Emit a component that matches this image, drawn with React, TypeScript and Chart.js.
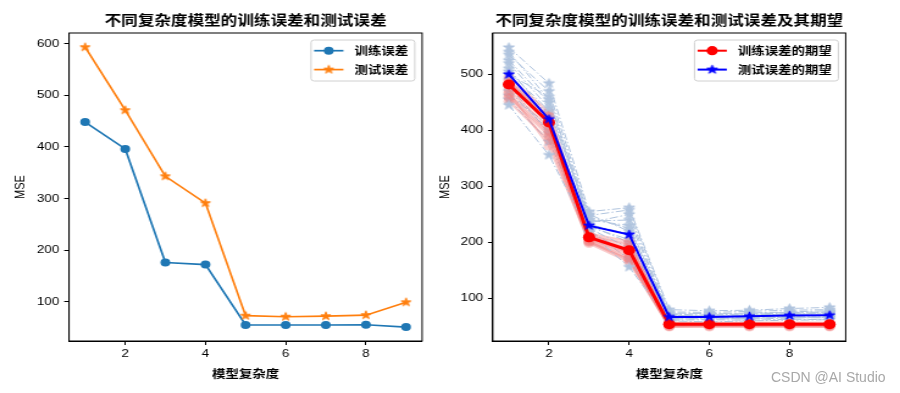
import React, { useEffect, useRef } from 'react';
import { Chart, registerables } from 'chart.js';

Chart.register(...registerables);

// horizontal stretch of the reference picture
const SX = 1.22;
const LATIN = '"Liberation Sans", Arial, sans-serif';
const CJK = '"Noto Sans CJK SC", "Noto Sans", sans-serif';

// ---------------- data ----------------
const complexity = [1, 2, 3, 4, 5, 6, 7, 8, 9];
const xTicks = [2, 4, 6, 8];
const leftYTicks = [100, 200, 300, 400, 500, 600];
const rightYTicks = [100, 200, 300, 400, 500];

const trainError = [448, 396, 176, 172, 55, 55, 55, 55.5, 51];
const testError = [593, 471, 343, 291, 73, 71, 72, 74, 99];

const trainExpected = [482, 414, 209, 186, 54, 54, 54, 54, 54];
const testExpected = [500, 420, 230, 214, 67, 67, 68, 69.5, 70];

const trainSample01 = [472, 405, 205, 180, 53, 53, 52, 53, 52];
const trainSample02 = [490, 425, 212, 195, 56, 55, 56, 55, 55];
const trainSample03 = [458, 390, 200, 170, 50, 51, 50, 51, 50];
const trainSample04 = [485, 420, 210, 190, 55, 54, 55, 56, 54];
const trainSample05 = [465, 398, 203, 176, 52, 52, 53, 52, 51];
const trainSample06 = [496, 432, 216, 202, 57, 57, 56, 57, 56];
const trainSample07 = [452, 382, 198, 165, 49, 49, 49, 49, 49];
const trainSample08 = [478, 412, 208, 185, 54, 53, 54, 54, 53];
const trainSample09 = [468, 372, 202, 172, 51, 52, 51, 52, 52];
const trainSample10 = [482, 416, 206, 182, 55, 55, 54, 55, 55];
const trainSample11 = [460, 395, 201, 168, 50, 50, 51, 50, 50];
const trainSample12 = [488, 423, 213, 198, 56, 56, 57, 56, 57];

const testSample01 = [548, 484, 255, 262, 80, 78, 79, 82, 84];
const testSample02 = [445, 356, 218, 156, 60, 58, 60, 61, 62];
const testSample03 = [520, 440, 240, 230, 72, 70, 73, 75, 76];
const testSample04 = [500, 460, 235, 250, 68, 69, 70, 72, 74];
const testSample05 = [470, 400, 225, 190, 63, 64, 63, 65, 66];
const testSample06 = [535, 470, 248, 258, 76, 75, 77, 79, 80];
const testSample07 = [455, 380, 222, 170, 61, 62, 61, 63, 62];
const testSample08 = [510, 425, 232, 215, 70, 68, 69, 71, 70];
const testSample09 = [490, 415, 228, 205, 66, 67, 66, 68, 69];
const testSample10 = [540, 455, 245, 225, 74, 73, 74, 76, 78];
const testSample11 = [480, 395, 220, 180, 64, 63, 65, 66, 67];
const testSample12 = [525, 450, 238, 240, 72, 73, 72, 74, 75];
const testSample13 = [462, 410, 230, 200, 65, 66, 64, 67, 65];
const testSample14 = [505, 435, 250, 220, 69, 70, 71, 72, 73];

const trainSamples = [
  trainSample01, trainSample02, trainSample03, trainSample04, trainSample05, trainSample06,
  trainSample07, trainSample08, trainSample09, trainSample10, trainSample11, trainSample12,
];
const testSamples = [
  testSample01, testSample02, testSample03, testSample04, testSample05, testSample06, testSample07,
  testSample08, testSample09, testSample10, testSample11, testSample12, testSample13, testSample14,
];

// ---------------- helpers ----------------
const toXY = (ys: number[]) => ys.map((y, i) => ({ x: complexity[i], y }));

function makeStar(R: number, fill: string): HTMLCanvasElement {
  const size = Math.ceil(R * 2 + 3);
  const c = document.createElement('canvas');
  c.width = size;
  c.height = size;
  const ctx = c.getContext('2d')!;
  const cx = size / 2;
  const cy = size / 2;
  ctx.beginPath();
  for (let i = 0; i < 10; i++) {
    const r = i % 2 === 0 ? R : R * 0.381966;
    const a = -Math.PI / 2 + (i * Math.PI) / 5;
    const x = cx + r * Math.cos(a);
    const y = cy + r * Math.sin(a);
    if (i === 0) ctx.moveTo(x, y);
    else ctx.lineTo(x, y);
  }
  ctx.closePath();
  ctx.fillStyle = fill;
  ctx.fill();
  ctx.strokeStyle = fill;
  ctx.lineWidth = 1;
  ctx.stroke();
  return c;
}

type LegendItem = {
  label: string;
  color: string;
  lineWidth: number;
  marker: 'circle' | 'star';
  radius?: number;
  star?: HTMLCanvasElement;
};

function makeOverlay(title: string, legend: LegendItem[]) {
  return {
    id: 'overlay',
    afterDraw(chart: any) {
      const { ctx, chartArea: a } = chart;
      ctx.save();
      // full frame (matplotlib spines)
      ctx.setLineDash([]);
      ctx.lineWidth = 1;
      ctx.strokeStyle = '#000';
      ctx.strokeRect(a.left, a.top, a.right - a.left, a.bottom - a.top);
      // title
      ctx.fillStyle = '#000';
      ctx.font = `bold 13.6px ${CJK}`;
      ctx.textAlign = 'center';
      ctx.textBaseline = 'middle';
      ctx.fillText(title, (a.left + a.right) / 2, 20);
      // legend
      ctx.font = `bold 11px ${CJK}`;
      const textW = Math.max(...legend.map((l) => ctx.measureText(l.label).width));
      const boxW = 2.5 + 24 + 9 + textW + 5.5;
      const boxR = a.right - 6;
      const boxL = boxR - boxW;
      const boxT = 40;
      const boxB = 81;
      const rr = 2.5;
      ctx.beginPath();
      ctx.moveTo(boxL + rr, boxT);
      ctx.lineTo(boxR - rr, boxT);
      ctx.arcTo(boxR, boxT, boxR, boxT + rr, rr);
      ctx.lineTo(boxR, boxB - rr);
      ctx.arcTo(boxR, boxB, boxR - rr, boxB, rr);
      ctx.lineTo(boxL + rr, boxB);
      ctx.arcTo(boxL, boxB, boxL, boxB - rr, rr);
      ctx.lineTo(boxL, boxT + rr);
      ctx.arcTo(boxL, boxT, boxL + rr, boxT, rr);
      ctx.closePath();
      ctx.fillStyle = 'rgba(255,255,255,0.8)';
      ctx.fill();
      ctx.strokeStyle = '#d0d0d0';
      ctx.lineWidth = 1;
      ctx.stroke();
      const rows = [50.7, 69.6];
      legend.forEach((l, i) => {
        const y = rows[i];
        const hx0 = boxL + 2.5;
        const hx1 = hx0 + 24;
        ctx.strokeStyle = l.color;
        ctx.lineWidth = l.lineWidth;
        ctx.beginPath();
        ctx.moveTo(hx0, y);
        ctx.lineTo(hx1, y);
        ctx.stroke();
        const cx = (hx0 + hx1) / 2;
        if (l.marker === 'circle') {
          ctx.beginPath();
          ctx.arc(cx, y, l.radius || 4, 0, Math.PI * 2);
          ctx.fillStyle = l.color;
          ctx.fill();
        } else if (l.star) {
          ctx.drawImage(l.star, cx - l.star.width / 2, y - l.star.height / 2);
        }
        ctx.fillStyle = '#000';
        ctx.textAlign = 'left';
        ctx.textBaseline = 'middle';
        ctx.fillText(l.label, hx1 + 9, y);
      });
      ctx.restore();
    },
  };
}

function axesOptions(p: {
  yMin: number;
  yMax: number;
  yTicks: number[];
  yAxisW: number;
  padRight: number;
  yTitlePad: number;
}) {
  return {
    responsive: false,
    maintainAspectRatio: false,
    animation: false,
    devicePixelRatio: 1,
    events: [],
    layout: { padding: { left: 0, right: p.padRight, top: 33, bottom: 0 } },
    plugins: {
      legend: { display: false },
      title: { display: false },
      tooltip: { enabled: false },
    },
    scales: {
      x: {
        type: 'linear',
        min: 0.6,
        max: 9.4,
        afterBuildTicks: (s: any) => {
          s.ticks = xTicks.map((v) => ({ value: v }));
        },
        ticks: {
          color: '#000',
          font: { family: LATIN, size: 11 },
          padding: 2,
          maxRotation: 0,
          autoSkip: false,
        },
        grid: { drawOnChartArea: false, drawTicks: true, tickLength: 4, color: '#000', lineWidth: 1 },
        border: { display: true, color: '#000', width: 1 },
        title: {
          display: true,
          text: '模型复杂度',
          color: '#000',
          font: { family: CJK, size: 11, weight: 'bold' },
          padding: { top: 0, bottom: 12.9 },
        },
        afterFit: (s: any) => {
          s.height = 52;
        },
      },
      y: {
        type: 'linear',
        min: p.yMin,
        max: p.yMax,
        afterBuildTicks: (s: any) => {
          s.ticks = p.yTicks.map((v) => ({ value: v }));
        },
        ticks: {
          color: '#000',
          font: { family: LATIN, size: 11 },
          padding: 4,
          autoSkip: false,
        },
        grid: { drawOnChartArea: false, drawTicks: true, tickLength: 4, color: '#000', lineWidth: 1 },
        border: { display: true, color: '#000', width: 1 },
        title: {
          display: true,
          text: 'MSE',
          color: '#000',
          font: { family: LATIN, size: 11 },
          padding: { top: p.yTitlePad, bottom: 0 },
        },
        afterFit: (s: any) => {
          s.width = p.yAxisW;
        },
      },
    },
  };
}

function buildLeft() {
  const orangeStar = makeStar(4.3, '#ff7f0e');
  const datasets: any[] = [
    {
      label: '训练误差',
      data: toXY(trainError),
      borderColor: '#1f77b4',
      backgroundColor: '#1f77b4',
      borderWidth: 1.7,
      pointStyle: 'circle',
      pointRadius: 4,
      pointBorderWidth: 0,
      pointBackgroundColor: '#1f77b4',
      order: 1,
    },
    {
      label: '测试误差',
      data: toXY(testError),
      borderColor: '#ff7f0e',
      backgroundColor: '#ff7f0e',
      borderWidth: 1.7,
      pointStyle: orangeStar,
      pointRadius: 4,
      order: 0,
    },
  ];
  return {
    type: 'line',
    data: { datasets },
    options: axesOptions({ yMin: 24, yMax: 620.5, yTicks: leftYTicks, yAxisW: 56.6, padRight: 8.1, yTitlePad: 10.4 }),
    plugins: [
      makeOverlay('不同复杂度模型的训练误差和测试误差', [
        { label: '训练误差', color: '#1f77b4', lineWidth: 1.7, marker: 'circle', radius: 4 },
        { label: '测试误差', color: '#ff7f0e', lineWidth: 1.7, marker: 'star', star: orangeStar },
      ]),
    ],
  };
}

function buildRight() {
  const blueStar = makeStar(4.6, '#0000ff');
  const paleStar = makeStar(4.8, '#b0c4de');
  const datasets: any[] = [
    {
      label: '测试误差的期望',
      data: toXY(testExpected),
      borderColor: '#0000ff',
      backgroundColor: '#0000ff',
      borderWidth: 2,
      pointStyle: blueStar,
      pointRadius: 4,
      order: 0,
    },
    {
      label: '训练误差的期望',
      data: toXY(trainExpected),
      borderColor: '#ff0000',
      backgroundColor: '#ff0000',
      borderWidth: 3,
      pointStyle: 'circle',
      pointRadius: 5,
      pointBorderWidth: 0,
      pointBackgroundColor: '#ff0000',
      order: 1,
    },
  ];
  const n = Math.max(trainSamples.length, testSamples.length);
  for (let k = 0; k < n; k++) {
    if (trainSamples[k]) {
      datasets.push({
        label: 'train sample',
        data: toXY(trainSamples[k]),
        borderColor: 'rgba(240,128,128,0.4)',
        borderWidth: 2,
        pointStyle: 'circle',
        pointRadius: 4.5,
        pointBorderWidth: 0,
        pointBackgroundColor: 'rgba(240,128,128,0.35)',
        order: 2,
      });
    }
    if (testSamples[k]) {
      datasets.push({
        label: 'test sample',
        data: toXY(testSamples[k]),
        borderColor: '#b0c4de',
        borderWidth: 1,
        borderDash: [7, 2, 1.5, 2],
        pointStyle: paleStar,
        pointRadius: 4,
        order: 2,
      });
    }
  }
  return {
    type: 'line',
    data: { datasets },
    options: axesOptions({ yMin: 24, yMax: 573.8, yTicks: rightYTicks, yAxisW: 49.9, padRight: 44.6, yTitlePad: 4.2 }),
    plugins: [
      makeOverlay('不同复杂度模型的训练误差和测试误差及其期望', [
        { label: '训练误差的期望', color: '#ff0000', lineWidth: 2, marker: 'circle', radius: 4.6 },
        { label: '测试误差的期望', color: '#0000ff', lineWidth: 2, marker: 'star', star: blueStar },
      ]),
    ],
  };
}

function ChartCanvas({ build, wInt, left }: { build: () => any; wInt: number; left: number }) {
  const ref = useRef<HTMLCanvasElement>(null);
  useEffect(() => {
    const chart = new Chart(ref.current as HTMLCanvasElement, build());
    return () => chart.destroy();
  }, []);
  return (
    <canvas
      ref={ref}
      width={wInt}
      height={393}
      style={{ position: 'absolute', left, top: 0, width: wInt * SX, height: 393 }}
    />
  );
}

export default function App() {
  const leftW = 354;
  const rightW = 384;
  return (
    <div
      style={{
        position: 'fixed',
        left: 0,
        top: 0,
        width: 900,
        height: 393,
        background: '#fff',
        overflow: 'hidden',
      }}
    >
      <ChartCanvas build={buildLeft} wInt={leftW} left={0} />
      <ChartCanvas build={buildRight} wInt={rightW} left={leftW * SX} />
      <div
        style={{
          position: 'absolute',
          left: 771,
          top: 369,
          font: `14px ${LATIN}`,
          color: '#a8a8a8',
          whiteSpace: 'nowrap',
        }}
      >
        CSDN @AI Studio
      </div>
    </div>
  );
}
